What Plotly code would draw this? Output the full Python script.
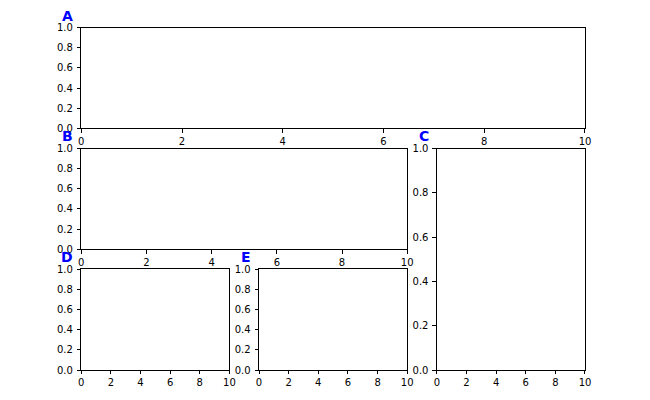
import plotly.graph_objects as go

W, H = 650, 400
ML, MR, MT, MB = 2, 6, 5, 6

# panel labels and axis settings
panel_labels = ["A", "B", "C", "D", "E"]
x_range = [0, 10]
y_range = [0, 1]
x_dtick = 2
y_dtick = 0.2

# panel pixel boxes (left, right, top, bottom) in picture pixels
col_w, col_g = 148.16, 29.63
row_h, row_g = 100.7, 20.1
left0, top0 = 81.25, 27.7
cols = [(left0 + i * (col_w + col_g), left0 + i * (col_w + col_g) + col_w) for i in range(3)]
rows = [(top0 + i * (row_h + row_g), top0 + i * (row_h + row_g) + row_h) for i in range(3)]

boxes = {
    "A": (cols[0][0], cols[2][1], rows[0][0], rows[0][1]),
    "B": (cols[0][0], cols[1][1], rows[1][0], rows[1][1]),
    "C": (cols[2][0], cols[2][1], rows[1][0], rows[2][1]),
    "D": (cols[0][0], cols[0][1], rows[2][0], rows[2][1]),
    "E": (cols[1][0], cols[1][1], rows[2][0], rows[2][1]),
}

PW, PH = W - ML - MR, H - MT - MB


def fx(px):
    return (px - ML) / PW


def fy(py):
    return 1 - (py - MT) / PH


fig = go.Figure()
font = dict(family="DejaVu Sans", size=10, color="black")
axis_common = dict(
    showline=True, linecolor="black", linewidth=0.8, mirror=True,
    ticks="outside", ticklen=3.5, tickwidth=0.8, tickcolor="black",
    showgrid=False, zeroline=False, tickfont=font, fixedrange=True,
    automargin=False,
)

for i, lab in enumerate(panel_labels):
    l, r, t, b = boxes[lab]
    n = "" if i == 0 else str(i + 1)
    fig.add_trace(go.Scatter(x=[], y=[], xaxis="x" + n, yaxis="y" + n, showlegend=False))
    fig.layout["xaxis" + n] = dict(
        domain=[fx(l), fx(r)], anchor="y" + n, range=x_range, dtick=x_dtick,
        tick0=0, **axis_common)
    fig.layout["yaxis" + n] = dict(
        domain=[fy(b), fy(t)], anchor="x" + n, range=y_range, dtick=y_dtick,
        tick0=0, tickformat=".1f", ticklabelstandoff=2, **axis_common)
    fig.add_annotation(
        x=fx(l), y=fy(t), xref="paper", yref="paper", text="<b>%s</b>" % lab,
        showarrow=False, xanchor="right", yanchor="bottom", xshift=-6, yshift=2,
        font=dict(family="DejaVu Sans", size=14, color="#0000ff"),
    )

fig.update_layout(
    width=W, height=H, margin=dict(l=ML, r=MR, t=MT, b=MB, autoexpand=False),
    paper_bgcolor="white", plot_bgcolor="white", font=font,
)
fig.write_html(
    "out.html",
    config={"displayModeBar": False},
    post_script="document.body.style.margin='0';document.body.style.overflow='hidden';",
)
